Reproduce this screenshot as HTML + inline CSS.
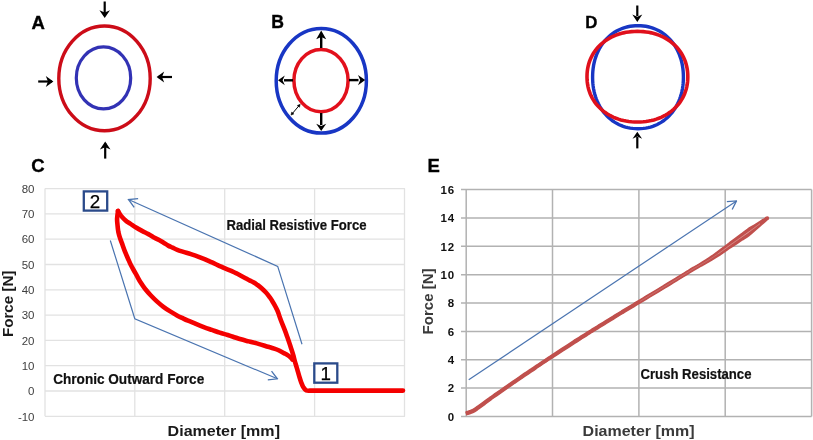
<!DOCTYPE html>
<html>
<head>
<meta charset="utf-8">
<style>
html,body{margin:0;padding:0;background:#fff;}
body{width:813px;height:440px;overflow:hidden;}
svg{display:block;}
.lbl{font-family:"Liberation Sans",Arial,sans-serif;font-weight:bold;font-size:18.5px;fill:#000;stroke:#000;stroke-width:0.35px;}
.tc{font-family:"Liberation Sans",Arial,sans-serif;font-size:11.5px;fill:#404040;}
.te{font-family:"Liberation Sans",Arial,sans-serif;font-weight:bold;font-size:11.5px;fill:#111;letter-spacing:0.9px;}
.ax{font-family:"Liberation Sans",Arial,sans-serif;font-weight:bold;font-size:14.6px;fill:#1a1a1a;}
.axe{font-family:"Liberation Sans",Arial,sans-serif;font-weight:bold;font-size:14.6px;fill:#3a3a3a;}
.ann{font-family:"Liberation Sans",Arial,sans-serif;font-weight:bold;font-size:14px;fill:#111;stroke:#111;stroke-width:0.2px;}
.box{font-family:"Liberation Sans",Arial,sans-serif;font-size:18.8px;fill:#000;stroke:#000;stroke-width:0.25px;}
</style>
</head>
<body>
<svg width="813" height="440" viewBox="0 0 813 440">
<rect width="813" height="440" fill="#fff"/>
<defs>
<marker id="ah" viewBox="0 0 12 12" refX="11" refY="6" markerWidth="12" markerHeight="12" markerUnits="userSpaceOnUse" orient="auto">
<path d="M2.6,1.2 L11,6 L2.6,10.8" fill="none" stroke="#4a74b0" stroke-width="1.3"/>
</marker>
</defs>

<!-- ===== Panel A ===== -->
<text class="lbl" x="31.6" y="29">A</text>
<ellipse cx="104.5" cy="78.4" rx="45.7" ry="52.4" fill="none" stroke="#cc0c18" stroke-width="3.4"/>
<ellipse cx="103.5" cy="77.9" rx="27.2" ry="31" fill="none" stroke="#3232b4" stroke-width="3.2"/>
<g stroke="#000" stroke-width="2.2" fill="none">
  <line x1="104.7" y1="1.5" x2="104.7" y2="16"/>
  <line x1="105.2" y1="143" x2="105.2" y2="158.6"/>
  <line x1="38.2" y1="81.5" x2="52" y2="81.5"/>
  <line x1="158" y1="77" x2="172" y2="77"/>
</g>
<g fill="#000">
  <path d="M104.7,17.9 L99.4,10.2 L104.7,12.4 L110,10.2 Z"/>
  <path d="M105.2,141.6 L99.9,149.4 L105.2,147.2 L110.5,149.4 Z"/>
  <path d="M53.4,81.5 L45.8,76 L48,81.5 L45.8,87 Z"/>
  <path d="M156.6,77 L164.2,71.4 L162,77 L164.2,82.6 Z"/>
</g>

<!-- ===== Panel B ===== -->
<text class="lbl" x="271.3" y="28.2" style="font-size:17.6px">B</text>
<ellipse cx="321.3" cy="80.75" rx="45.1" ry="52.35" fill="none" stroke="#1836c4" stroke-width="3.5"/>
<ellipse cx="321" cy="80.55" rx="27.1" ry="31.15" fill="none" stroke="#e2101c" stroke-width="3.5"/>
<g stroke="#000" stroke-width="2.4" fill="none">
  <line x1="321.2" y1="37" x2="321.2" y2="48"/>
  <line x1="321.2" y1="113" x2="321.2" y2="125"/>
  <line x1="284" y1="80.3" x2="293" y2="80.3"/>
  <line x1="349" y1="80.1" x2="358.5" y2="80.1"/>
</g>
<g fill="#000">
  <path d="M321.2,30.5 L316.2,39.2 L321.2,37 L326.2,39.2 Z"/>
  <path d="M321.2,131 L316.2,123.8 L321.2,126 L326.2,123.8 Z"/>
  <path d="M278,80.3 L284.8,75.4 L282.6,80.3 L284.8,85.2 Z"/>
  <path d="M365.2,80.1 L358,75 L360.2,80.1 L358,85.2 Z"/>
</g>
<g stroke="#000" stroke-width="1" fill="#000">
  <line x1="292.3" y1="113.6" x2="298.9" y2="105.8"/>
  <path d="M300.2,104.3 L299.5,107.3 L297.3,105.5 Z" stroke-width="0.5"/>
  <path d="M291,115.1 L293.9,113.9 L291.7,112.1 Z" stroke-width="0.5"/>
</g>

<!-- ===== Panel D ===== -->
<text class="lbl" x="585.2" y="28" style="font-size:16.8px">D</text>
<path d="M683.40,77.20 L683.34,80.30 L683.16,83.19 L682.87,86.00 L682.45,88.74 L681.93,91.42 L681.28,94.03 L680.52,96.58 L679.65,99.06 L678.67,101.48 L677.59,103.81 L676.40,106.07 L675.10,108.25 L673.71,110.33 L672.22,112.33 L670.64,114.22 L668.97,116.02 L667.21,117.71 L665.37,119.29 L663.45,120.75 L661.46,122.11 L659.40,123.34 L657.27,124.45 L655.08,125.44 L652.84,126.30 L650.53,127.03 L648.17,127.63 L645.76,128.10 L643.28,128.43 L640.73,128.63 L638.00,128.70 L635.27,128.63 L632.72,128.43 L630.24,128.10 L627.83,127.63 L625.47,127.03 L623.16,126.30 L620.92,125.44 L618.73,124.45 L616.60,123.34 L614.54,122.11 L612.55,120.75 L610.63,119.29 L608.79,117.71 L607.03,116.02 L605.36,114.22 L603.78,112.33 L602.29,110.33 L600.90,108.25 L599.60,106.07 L598.41,103.81 L597.33,101.48 L596.35,99.06 L595.48,96.58 L594.72,94.03 L594.07,91.42 L593.55,88.74 L593.13,86.00 L592.84,83.19 L592.66,80.30 L592.60,77.20 L592.66,74.10 L592.84,71.21 L593.13,68.40 L593.55,65.66 L594.07,62.98 L594.72,60.37 L595.48,57.82 L596.35,55.34 L597.33,52.92 L598.41,50.59 L599.60,48.33 L600.90,46.15 L602.29,44.07 L603.78,42.07 L605.36,40.18 L607.03,38.38 L608.79,36.69 L610.63,35.11 L612.55,33.65 L614.54,32.29 L616.60,31.06 L618.73,29.95 L620.92,28.96 L623.16,28.10 L625.47,27.37 L627.83,26.77 L630.24,26.30 L632.72,25.97 L635.27,25.77 L638.00,25.70 L640.73,25.77 L643.28,25.97 L645.76,26.30 L648.17,26.77 L650.53,27.37 L652.84,28.10 L655.08,28.96 L657.27,29.95 L659.40,31.06 L661.46,32.29 L663.45,33.65 L665.37,35.11 L667.21,36.69 L668.97,38.38 L670.64,40.18 L672.22,42.07 L673.71,44.07 L675.10,46.15 L676.40,48.33 L677.59,50.59 L678.67,52.92 L679.65,55.34 L680.52,57.82 L681.28,60.37 L681.93,62.98 L682.45,65.66 L682.87,68.40 L683.16,71.21 L683.34,74.10 Z" fill="none" stroke="#1836c4" stroke-width="3.4"/>
<path d="M687.80,76.70 L687.73,79.43 L687.54,81.97 L687.21,84.44 L686.75,86.85 L686.16,89.20 L685.45,91.50 L684.61,93.75 L683.64,95.93 L682.55,98.05 L681.35,100.11 L680.02,102.10 L678.59,104.01 L677.04,105.84 L675.39,107.60 L673.63,109.26 L671.78,110.84 L669.82,112.33 L667.78,113.72 L665.66,115.01 L663.45,116.20 L661.16,117.29 L658.80,118.26 L656.37,119.13 L653.87,119.89 L651.31,120.53 L648.69,121.06 L646.01,121.47 L643.27,121.76 L640.44,121.94 L637.40,122.00 L634.36,121.94 L631.53,121.76 L628.79,121.47 L626.11,121.06 L623.49,120.53 L620.93,119.89 L618.43,119.13 L616.00,118.26 L613.64,117.29 L611.35,116.20 L609.14,115.01 L607.02,113.72 L604.98,112.33 L603.02,110.84 L601.17,109.26 L599.41,107.60 L597.76,105.84 L596.21,104.01 L594.78,102.10 L593.45,100.11 L592.25,98.05 L591.16,95.93 L590.19,93.75 L589.35,91.50 L588.64,89.20 L588.05,86.85 L587.59,84.44 L587.26,81.97 L587.07,79.43 L587.00,76.70 L587.07,73.97 L587.26,71.43 L587.59,68.96 L588.05,66.55 L588.64,64.20 L589.35,61.90 L590.19,59.65 L591.16,57.47 L592.25,55.35 L593.45,53.29 L594.78,51.30 L596.21,49.39 L597.76,47.56 L599.41,45.80 L601.17,44.14 L603.02,42.56 L604.98,41.07 L607.02,39.68 L609.14,38.39 L611.35,37.20 L613.64,36.11 L616.00,35.14 L618.43,34.27 L620.93,33.51 L623.49,32.87 L626.11,32.34 L628.79,31.93 L631.53,31.64 L634.36,31.46 L637.40,31.40 L640.44,31.46 L643.27,31.64 L646.01,31.93 L648.69,32.34 L651.31,32.87 L653.87,33.51 L656.37,34.27 L658.80,35.14 L661.16,36.11 L663.45,37.20 L665.66,38.39 L667.78,39.68 L669.82,41.07 L671.78,42.56 L673.63,44.14 L675.39,45.80 L677.04,47.56 L678.59,49.39 L680.02,51.30 L681.35,53.29 L682.55,55.35 L683.64,57.47 L684.61,59.65 L685.45,61.90 L686.16,64.20 L686.75,66.55 L687.21,68.96 L687.54,71.43 L687.73,73.97 Z" fill="none" stroke="#e0101c" stroke-width="3.6"/>
<g stroke="#000" stroke-width="2.2" fill="none">
  <line x1="637.3" y1="5.5" x2="637.3" y2="16"/>
  <line x1="637.3" y1="137" x2="637.3" y2="148.4"/>
</g>
<g fill="#000">
  <path d="M637.3,22 L632.3,14.6 L637.3,16.8 L642.3,14.6 Z"/>
  <path d="M637.3,131.8 L632.5,138.8 L637.3,136.6 L642.1,138.8 Z"/>
</g>

<!-- ===== Panel C ===== -->
<text class="lbl" x="31.3" y="172.1">C</text>
<g stroke="#e2e2e2" stroke-width="1.3" fill="none">
  <path d="M45,188.6 H405 M45,213.9 H405 M45,239.2 H405 M45,264.5 H405 M45,289.8 H405 M45,315.1 H405 M45,340.4 H405 M45,365.7 H405 M45,391 H405 M45,416.3 H405"/>
  <path d="M45,188.6 V416.3 M134.8,188.6 V416.3 M224.7,188.6 V416.3 M314.6,188.6 V416.3 M404.5,188.6 V416.3"/>
</g>
<g class="tc" text-anchor="end">
  <text x="34.5" y="192.8">80</text>
  <text x="34.5" y="218.1">70</text>
  <text x="34.5" y="243.4">60</text>
  <text x="34.5" y="268.7">50</text>
  <text x="34.5" y="294">40</text>
  <text x="34.5" y="319.3">30</text>
  <text x="34.5" y="344.6">20</text>
  <text x="34.5" y="369.9">10</text>
  <text x="34.5" y="395.2">0</text>
  <text x="34.5" y="420.5">-10</text>
</g>
<!-- blue annotation arrows C -->
<g stroke="#4a74b0" stroke-width="1.2" fill="none">
  <polyline points="302,344.3 277.7,266.4 128.5,199.5" marker-end="url(#ah)"/>
  <polyline points="110.3,240.5 134.8,318.8 277.4,378.8" marker-end="url(#ah)"/>
</g>
<!-- red curve C -->
<g stroke="#f40000" stroke-width="4.6" fill="none" stroke-linejoin="round" stroke-linecap="round">
  <path d="M118.0,211.0 C118.5,211.8 119.8,214.3 121.1,215.9 C122.4,217.5 124.1,219.2 125.6,220.5 C127.1,221.8 128.5,222.5 130.2,223.6 C131.9,224.7 133.6,226.1 135.6,227.3 C137.6,228.5 139.9,229.8 142.0,230.9 C144.1,232.0 146.3,233.0 148.4,234.1 C150.5,235.2 152.7,236.7 154.5,237.7 C156.3,238.7 157.6,239.2 159.1,240.0 C160.6,240.8 162.1,241.8 163.6,242.7 C165.1,243.6 166.7,244.8 168.2,245.6 C169.7,246.4 171.2,247.0 172.7,247.7 C174.2,248.4 175.8,249.2 177.3,249.8 C178.8,250.4 180.3,250.9 181.8,251.4 C183.3,251.9 184.9,252.4 186.4,252.8 C187.9,253.2 189.4,253.6 190.9,254.1 C192.4,254.6 194.0,255.1 195.5,255.6 C197.0,256.1 198.5,256.7 200.0,257.3 C201.5,257.9 203.0,258.5 204.5,259.1 C206.0,259.8 207.6,260.5 209.1,261.2 C210.6,261.9 212.1,262.5 213.6,263.2 C215.1,263.9 216.7,264.6 218.2,265.3 C219.7,266.0 221.2,266.6 222.7,267.3 C224.2,268.0 225.8,268.7 227.3,269.3 C228.8,269.9 230.3,270.5 231.8,271.2 C233.3,271.9 234.9,272.6 236.4,273.3 C237.9,274.1 239.4,274.9 240.9,275.7 C242.4,276.5 244.0,277.4 245.5,278.2 C247.0,279.0 248.6,279.9 250.0,280.6 C251.4,281.3 252.7,281.9 254.0,282.6 C255.3,283.3 256.3,284.1 257.6,285.0 C258.9,285.9 260.2,286.9 261.6,288.2 C263.0,289.5 264.8,291.2 266.2,292.7 C267.6,294.2 268.7,295.8 269.8,297.3 C270.9,298.9 271.9,300.4 272.8,302.0 C273.8,303.6 274.7,305.2 275.5,306.8 C276.3,308.4 277.1,309.8 277.8,311.5 C278.5,313.2 279.0,315.0 279.7,317.0 C280.4,319.0 281.3,321.4 282.2,323.6 C283.1,325.8 284.0,328.0 284.9,330.3 C285.8,332.6 286.6,335.0 287.4,337.3 C288.2,339.6 289.0,341.9 289.7,344.0 C290.4,346.1 290.9,347.8 291.5,349.6 C292.1,351.4 292.6,353.0 293.2,355.0 C293.8,357.0 294.3,359.4 295.0,361.8 C295.7,364.2 296.5,366.8 297.2,369.2 C297.9,371.6 298.6,374.3 299.3,376.5 C300.0,378.7 300.5,380.5 301.2,382.3 C301.9,384.1 302.5,386.0 303.4,387.3 C304.2,388.6 305.1,389.8 306.3,390.4 C307.5,390.9 309.8,390.6 310.5,390.6 L403,390.6"/>
  <path d="M118.0,211.0 C117.8,212.3 117.2,216.3 117.1,218.6 C117.0,220.9 117.3,222.7 117.5,225.0 C117.7,227.3 118.0,230.0 118.4,232.3 C118.9,234.6 119.5,236.5 120.2,238.6 C120.9,240.7 121.8,242.7 122.6,245.0 C123.4,247.3 124.4,250.2 125.3,252.4 C126.2,254.6 126.9,256.2 127.8,258.2 C128.7,260.2 129.5,262.3 130.5,264.3 C131.5,266.3 132.5,268.1 133.6,270.0 C134.7,271.9 135.6,273.6 136.8,275.7 C138.0,277.8 139.3,280.4 140.7,282.6 C142.1,284.8 143.5,286.9 145.2,289.0 C146.9,291.1 149.0,293.5 150.9,295.5 C152.8,297.5 154.5,299.2 156.6,301.1 C158.7,303.0 161.1,305.1 163.4,306.8 C165.7,308.5 167.9,310.0 170.2,311.4 C172.5,312.8 174.8,314.2 177.0,315.4 C179.2,316.6 181.7,317.7 183.5,318.6 C185.3,319.5 185.9,319.8 188.0,320.7 C190.1,321.6 193.3,322.8 195.9,323.9 C198.5,325.0 201.2,326.1 203.8,327.1 C206.5,328.1 209.2,329.0 211.8,329.9 C214.5,330.8 217.0,331.8 219.7,332.6 C222.3,333.5 225.5,334.3 227.7,335.0 C229.9,335.7 230.8,336.0 233.0,336.7 C235.2,337.4 238.3,338.5 240.9,339.3 C243.5,340.1 246.2,340.7 248.8,341.4 C251.5,342.1 254.2,342.7 256.8,343.4 C259.4,344.1 262.5,345.0 264.7,345.7 C266.9,346.4 268.3,346.8 270.0,347.3 C271.7,347.8 273.5,348.4 275.0,348.9 C276.5,349.4 277.7,349.8 279.1,350.5 C280.5,351.2 282.2,352.1 283.6,352.9 C285.0,353.7 286.4,354.3 287.6,355.1 C288.8,355.9 289.8,356.8 290.6,357.5 C291.4,358.2 292.1,359.2 292.4,359.6"/>
</g>
<!-- boxes -->
<rect x="83.8" y="191.4" width="23.4" height="19.2" fill="#fff" stroke="#2a4a8a" stroke-width="2.3"/>
<text class="box" x="95" y="208.4" text-anchor="middle">2</text>
<rect x="314.3" y="363.4" width="23" height="19.3" fill="#fff" stroke="#2a4a8a" stroke-width="2.3"/>
<text class="box" x="325.8" y="380.1" text-anchor="middle">1</text>
<text class="ann" x="226.5" y="230.3" textLength="140" lengthAdjust="spacingAndGlyphs">Radial Resistive Force</text>
<text class="ann" x="53.2" y="384.2" textLength="151" lengthAdjust="spacingAndGlyphs">Chronic Outward Force</text>
<text class="ax" x="167.6" y="435.5" textLength="112.4" lengthAdjust="spacingAndGlyphs">Diameter [mm]</text>
<text class="ax" transform="translate(12.9,337) rotate(-90)" textLength="66.4" lengthAdjust="spacingAndGlyphs">Force [N]</text>

<!-- ===== Panel E ===== -->
<text class="lbl" x="427.5" y="171.8">E</text>
<g stroke="#b2b2b2" stroke-width="1.5" fill="none">
  <path d="M461,189.6 H811.6 M461,218 H811.6 M461,246.3 H811.6 M461,274.7 H811.6 M461,303.1 H811.6 M461,331.4 H811.6 M461,359.8 H811.6 M461,388.1 H811.6 M461,416.5 H811.6"/>
  <path d="M466.2,189.6 V416.5 M552.5,189.6 V416.5 M638.9,189.6 V416.5 M725.2,189.6 V416.5 M811.6,189.6 V416.5"/>
</g>
<g class="te" text-anchor="end" transform="translate(0.9,0)">
  <text x="454.2" y="193.8">16</text>
  <text x="454.2" y="222.2">14</text>
  <text x="454.2" y="250.5">12</text>
  <text x="454.2" y="278.9">10</text>
  <text x="454.2" y="307.3">8</text>
  <text x="454.2" y="335.6">6</text>
  <text x="454.2" y="364">4</text>
  <text x="454.2" y="392.3">2</text>
  <text x="454.2" y="420.7">0</text>
</g>
<line x1="468.7" y1="379.8" x2="736.5" y2="200.9" stroke="#4a74b0" stroke-width="1.2" marker-end="url(#ah)"/>
<g stroke="#c0504d" stroke-width="3.6" fill="none" stroke-linejoin="round" stroke-linecap="butt">
  <path d="M465.8,412.9 C466.5,412.8 468.6,412.3 470.0,411.8 C471.4,411.2 473.0,410.6 474.3,409.8 C475.6,409.1 476.4,408.5 478.0,407.3 C479.6,406.2 482.0,404.5 484.0,403.0 C486.0,401.6 488.0,399.9 490.0,398.5 C492.0,397.0 494.0,395.7 496.0,394.3 C498.0,392.9 500.0,391.5 502.0,390.1 C504.0,388.7 506.0,387.3 508.0,385.9 C510.0,384.5 512.0,383.1 514.0,381.7 C516.0,380.4 518.0,379.0 520.0,377.6 C522.0,376.2 524.0,374.9 526.0,373.5 C528.0,372.2 530.0,370.8 532.0,369.5 C534.0,368.1 536.0,366.8 538.0,365.4 C540.0,364.1 542.0,362.7 544.0,361.4 C546.0,360.1 548.0,358.7 550.0,357.4 C552.0,356.1 554.0,354.8 556.0,353.5 C558.0,352.2 560.0,350.9 562.0,349.6 C564.0,348.3 566.0,347.0 568.0,345.7 C570.0,344.4 572.0,343.1 574.0,341.8 C576.0,340.5 578.0,339.3 580.0,338.0 C582.0,336.7 584.0,335.5 586.0,334.2 C588.0,332.9 590.0,331.7 592.0,330.4 C594.0,329.2 596.0,327.9 598.0,326.7 C600.0,325.5 602.0,324.2 604.0,323.0 C606.0,321.7 608.0,320.5 610.0,319.3 C612.0,318.1 614.0,316.8 616.0,315.6 C618.0,314.4 620.0,313.2 622.0,311.9 C624.0,310.7 626.0,309.5 628.0,308.3 C630.0,307.1 632.0,305.9 634.0,304.7 C636.0,303.5 638.0,302.2 640.0,301.0 C642.0,299.8 644.0,298.6 646.0,297.4 C648.0,296.2 650.0,295.0 652.0,293.8 C654.0,292.6 656.0,291.4 658.0,290.2 C660.0,289.0 662.0,287.8 664.0,286.6 C666.0,285.3 668.0,284.1 670.0,282.9 C672.0,281.7 674.0,280.5 676.0,279.3 C678.0,278.0 680.0,276.8 682.0,275.6 C684.0,274.4 686.0,273.1 688.0,271.9 C690.0,270.6 692.0,269.3 694.0,268.2 C696.0,267.0 698.0,265.9 700.0,264.7 C702.0,263.5 704.0,262.3 706.0,261.0 C708.0,259.7 710.0,258.4 712.0,257.0 C714.0,255.7 716.0,254.2 718.0,252.8 C720.0,251.3 722.0,249.8 724.0,248.3 C726.0,246.7 728.0,245.1 730.0,243.6 C732.0,242.0 734.0,240.7 736.0,239.2 C738.0,237.7 740.0,236.2 742.0,234.7 C744.0,233.2 746.0,231.5 748.0,230.2 C750.0,228.8 752.0,227.7 754.0,226.5 C756.0,225.3 758.0,224.0 760.0,222.7 C762.0,221.5 764.8,219.7 766.0,218.9 C767.2,218.1 767.1,218.2 767.3,218.0"/>
  <path d="M465.8,413.7 C466.5,413.5 468.6,413.0 470.0,412.5 C471.4,411.9 473.0,411.3 474.3,410.6 C475.6,409.8 476.4,409.2 478.0,408.1 C479.6,406.9 482.0,405.2 484.0,403.8 C486.0,402.3 488.0,400.6 490.0,399.2 C492.0,397.7 494.0,396.4 496.0,395.0 C498.0,393.6 500.0,392.2 502.0,390.8 C504.0,389.4 506.0,388.0 508.0,386.6 C510.0,385.2 512.0,383.8 514.0,382.4 C516.0,381.1 518.0,379.7 520.0,378.3 C522.0,376.9 524.0,375.6 526.0,374.2 C528.0,372.9 530.0,371.5 532.0,370.2 C534.0,368.8 536.0,367.5 538.0,366.1 C540.0,364.8 542.0,363.4 544.0,362.1 C546.0,360.8 548.0,359.4 550.0,358.1 C552.0,356.8 554.0,355.5 556.0,354.2 C558.0,352.9 560.0,351.6 562.0,350.3 C564.0,349.0 566.0,347.7 568.0,346.4 C570.0,345.1 572.0,343.8 574.0,342.5 C576.0,341.2 578.0,340.0 580.0,338.7 C582.0,337.4 584.0,336.2 586.0,334.9 C588.0,333.6 590.0,332.4 592.0,331.1 C594.0,329.9 596.0,328.6 598.0,327.4 C600.0,326.2 602.0,324.9 604.0,323.7 C606.0,322.4 608.0,321.2 610.0,320.0 C612.0,318.8 614.0,317.5 616.0,316.3 C618.0,315.1 620.0,313.9 622.0,312.6 C624.0,311.4 626.0,310.2 628.0,309.0 C630.0,307.8 632.0,306.6 634.0,305.4 C636.0,304.2 638.0,302.9 640.0,301.7 C642.0,300.5 644.0,299.3 646.0,298.1 C648.0,296.9 650.0,295.7 652.0,294.5 C654.0,293.3 656.0,292.1 658.0,290.9 C660.0,289.7 662.0,288.5 664.0,287.3 C666.0,286.0 668.0,284.8 670.0,283.6 C672.0,282.4 674.0,281.2 676.0,280.0 C678.0,278.7 680.0,277.5 682.0,276.3 C684.0,275.1 686.0,273.8 688.0,272.6 C690.0,271.3 692.0,270.0 694.0,268.9 C696.0,267.7 698.0,266.5 700.0,265.4 C702.0,264.3 704.0,263.3 706.0,262.2 C708.0,261.1 710.0,259.9 712.0,258.7 C714.0,257.5 716.0,256.3 718.0,255.0 C720.0,253.7 722.0,252.3 724.0,251.0 C726.0,249.6 728.0,248.1 730.0,246.8 C732.0,245.4 734.0,244.2 736.0,242.9 C738.0,241.6 740.0,240.3 742.0,238.9 C744.0,237.6 746.0,236.5 748.0,235.0 C750.0,233.4 752.0,231.6 754.0,229.8 C756.0,228.1 758.0,226.4 760.0,224.6 C762.0,222.9 764.8,220.4 766.0,219.3 C767.2,218.2 767.1,218.3 767.3,218.1"/>
</g>
<circle cx="767.3" cy="218.1" r="1.9" fill="#c0504d"/>
<path d="M640.0,301.4 C641.0,300.8 644.0,299.0 646.0,297.8 C648.0,296.6 650.0,295.4 652.0,294.1 C654.0,292.9 656.0,291.7 658.0,290.5 C660.0,289.3 662.0,288.1 664.0,286.9 C666.0,285.7 668.0,284.5 670.0,283.3 C672.0,282.0 674.0,280.8 676.0,279.6 C678.0,278.4 680.0,277.2 682.0,275.9 C684.0,274.7 686.0,273.5 688.0,272.2 C690.0,271.0 692.0,269.7 694.0,268.5 C696.0,267.3 698.0,266.2 700.0,265.1 C702.0,263.9 704.0,262.8 706.0,261.6 C708.0,260.4 710.0,259.2 712.0,257.9 C714.0,256.6 716.0,255.2 718.0,253.9 C720.0,252.5 722.0,251.1 724.0,249.6 C726.0,248.1 728.0,246.6 730.0,245.2 C732.0,243.7 734.0,242.4 736.0,241.0 C738.0,239.6 740.0,238.3 742.0,236.8 C744.0,235.4 746.0,234.0 748.0,232.6 C750.0,231.1 752.0,229.6 754.0,228.2 C756.0,226.7 759.0,224.4 760.0,223.7" stroke="#e8b0b0" stroke-width="0.6" fill="none" opacity="0.5"/>
<path d="M718.0,253.9 C719.0,253.2 722.0,251.1 724.0,249.6 C726.0,248.1 728.0,246.6 730.0,245.2 C732.0,243.7 734.0,242.4 736.0,241.0 C738.0,239.6 740.0,238.3 742.0,236.8 C744.0,235.4 746.0,234.0 748.0,232.6 C750.0,231.1 752.0,229.6 754.0,228.2 C756.0,226.7 759.0,224.4 760.0,223.7" stroke="#d88a88" stroke-width="0.9" fill="none" opacity="0.7"/>
<text class="ann" x="640.5" y="379.2" textLength="111" lengthAdjust="spacingAndGlyphs">Crush Resistance</text>
<text class="axe" x="582.6" y="435.8" textLength="112" lengthAdjust="spacingAndGlyphs">Diameter [mm]</text>
<text class="axe" transform="translate(433,334.4) rotate(-90)" textLength="66" lengthAdjust="spacingAndGlyphs">Force [N]</text>
</svg>
</body>
</html>
